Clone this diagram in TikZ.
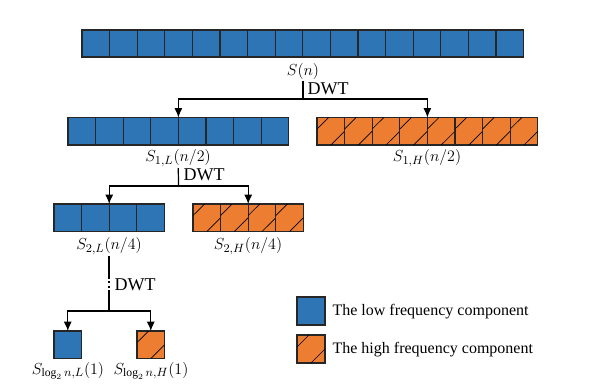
\documentclass[tikz,border=0pt]{standalone}
\usepackage{fontspec}
\setmainfont{Liberation Serif}
\usetikzlibrary{arrows.meta}
\definecolor{lowblue}{HTML}{2E75B6}
\definecolor{highorange}{HTML}{ED7D31}
\tikzset{
  lowcell/.style={draw=black!85, fill=lowblue, line width=0.9pt},
  highcell/.style={draw=black!85, fill=highorange, line width=0.9pt},
  hatch/.style={line width=0.5pt},
  lbl/.style={font=\fontsize{12.5}{14}\selectfont, inner sep=1pt},
  dwtlbl/.style={font=\fontsize{13.5}{15}\selectfont, inner sep=1pt, anchor=west},
  conn/.style={line width=0.9pt},
  down/.style={conn, -{Latex[length=7pt,width=6pt]}},
}
\begin{document}
\begin{tikzpicture}[x=0.75pt, y=-0.75pt]
  \useasboundingbox (0,0) rectangle (603,387);

  % Drawing row S(n)
  \foreach \i [evaluate=\i as \x using 82+27.6*\i] in {0,...,15}
    \draw[lowcell] (\x,30) rectangle ++(27.6,27);
  \coordinate (r0) at (302.8,30);

  % Drawing rows S_{1,L} and S_{1,H}
  \foreach \i [evaluate=\i as \x using 68+27.6*\i] in {0,...,7}
    \draw[lowcell] (\x,117.5) rectangle ++(27.6,27.5);
  \foreach \i [evaluate=\i as \x using 317+27.6*\i] in {0,...,7} {
    \draw[highcell] (\x,117.5) rectangle ++(27.6,27.5);
    \draw[hatch] (\x,129) -- ++(11.6,-11.5);
    \draw[hatch] (\x+13.8,145) -- ++(13.8,-13.75);
  }
  \coordinate (r1L) at (178.4,117.5);
  \coordinate (r1H) at (427.4,117.5);

  % Drawing rows S_{2,L} and S_{2,H}
  \foreach \i [evaluate=\i as \x using 54+27.6*\i] in {0,...,3}
    \draw[lowcell] (\x,204) rectangle ++(27.6,27.5);
  \foreach \i [evaluate=\i as \x using 193+27.6*\i] in {0,...,3} {
    \draw[highcell] (\x,204) rectangle ++(27.6,27.5);
    \draw[hatch] (\x,215.5) -- ++(11.6,-11.5);
    \draw[hatch] (\x+13.8,231.5) -- ++(13.8,-13.75);
  }
  \coordinate (r2L) at (109.2,204);
  \coordinate (r2H) at (248.2,204);

  % Drawing last level
  \draw[lowcell] (54,331) rectangle ++(27.6,27.5);
  \draw[highcell] (137,331) rectangle ++(27.6,27.5);
  \draw[hatch] (137,342.5) -- ++(11.6,-11.5);
  \draw[hatch] (150.8,358.5) -- ++(13.8,-13.75);
  \coordinate (r3L) at (67.8,331);
  \coordinate (r3H) at (150.8,331);

  % Labels
  \node[lbl] (s0) at (303,71) {$S(n)$};
  \node[lbl] (s1L) at (178,158) {$S_{1,L}(n/2)$};
  \node[lbl] (s1H) at (427,158) {$S_{1,H}(n/2)$};
  \node[lbl] (s2L) at (109,246) {$S_{2,L}(n/4)$};
  \node[lbl] (s2H) at (248,246) {$S_{2,H}(n/4)$};
  \node[lbl] (s3L) at (68,371) {$S_{\log_2 n,L}(1)$};
  \node[lbl] (s3H) at (151,371) {$S_{\log_2 n,H}(1)$};

  % First DWT
  \coordinate (b0) at (303,99);
  \draw[conn] (s0) -- (b0);
  \draw[down] (b0) -| (r1L);
  \draw[down] (b0) -| (r1H);
  \node[dwtlbl] (dwt0) at (306,89) {DWT};

  % Second DWT
  \coordinate (b1) at (178.6,186);
  \draw[conn] (s1L) -- (b1);
  \draw[down] (b1) -| (r2L);
  \draw[down] (b1) -| (r2H);
  \node[dwtlbl] (dwt1) at (182,175) {DWT};

  % Last DWT (dotted part)
  \coordinate (d1) at (109,277);
  \coordinate (d2) at (109,291);
  \coordinate (b2) at (109,311);
  \draw[conn] (s2L) -- (d1);
  \draw[line width=1.3pt, dash pattern=on 1.6pt off 1.6pt] (d1) -- (d2);
  \draw[conn] (d2) -- (b2);
  \draw[down] (b2) -| (r3L);
  \draw[down] (b2) -| (r3H);
  \node[dwtlbl] (dwt2) at (113,285) {DWT};

  % Legend
  \draw[lowcell] (297,297) rectangle ++(28,28);
  \node[lbl, font=\fontsize{12}{14}\selectfont, anchor=west] (lowtxt) at (331,312) {The low frequency component};
  \draw[highcell] (297,335) rectangle ++(28,28);
  \draw[hatch] (297,347) -- ++(12,-12);
  \draw[hatch] (311,363) -- ++(14,-14);
  \node[lbl, font=\fontsize{12}{14}\selectfont, anchor=west] (hightxt) at (331,350) {The high frequency component};
\end{tikzpicture}
\end{document}
